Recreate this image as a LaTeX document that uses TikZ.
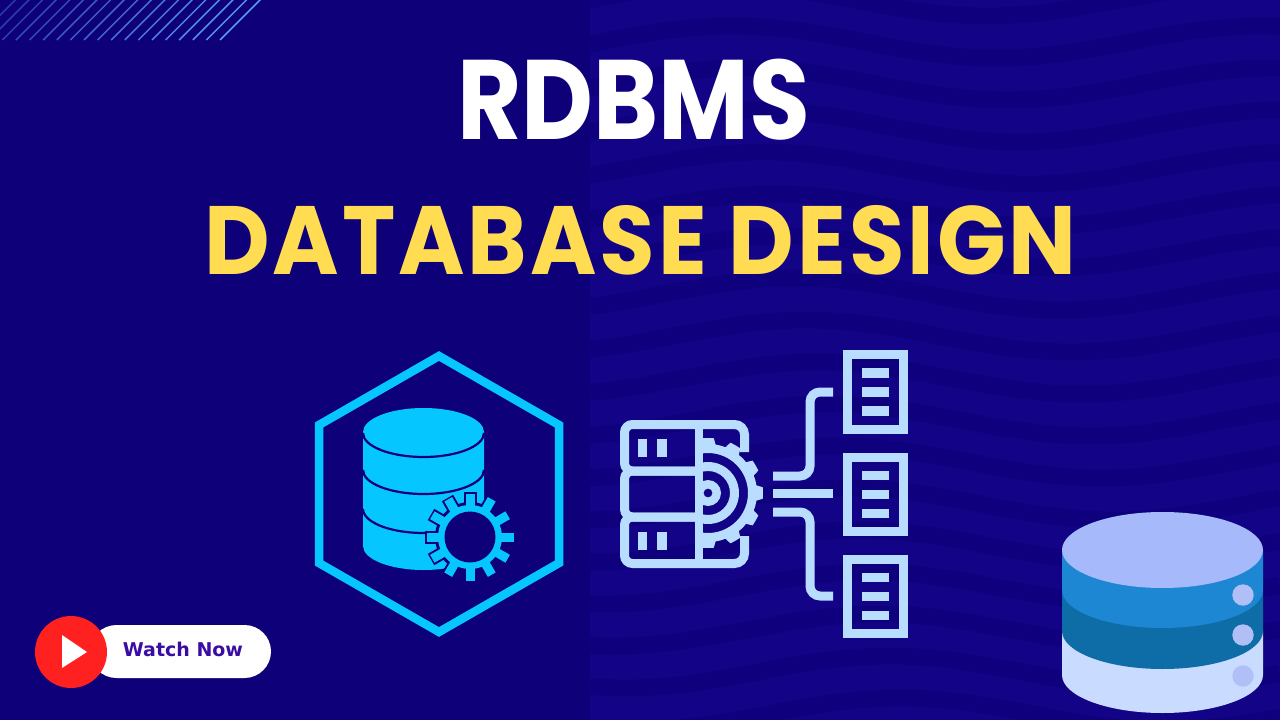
\documentclass[tikz,border=0pt]{standalone}
\usepackage[]{fontspec}
\usepackage[]{tikz}
\usepackage[]{xcolor}
\setmainfont{Poppins}
\newfontfamily\rdbmsfont[FakeStretch=0.875]{Poppins}
\newfontfamily\designfont[FakeStretch=0.93,LetterSpace=3]{Poppins}
\newfontfamily\btnfont{DejaVu Sans}
\definecolor{bgblue}{HTML}{0D0078}
\definecolor{waveblue}{HTML}{130487}
\definecolor{titleyellow}{HTML}{FFDC52}
\definecolor{hexcyan}{HTML}{06C6FF}
\definecolor{iconblue}{HTML}{B9DDFF}
\definecolor{stripeblue}{HTML}{5A9BEF}
\definecolor{playred}{HTML}{FF2020}
\definecolor{btnviolet}{HTML}{3A0CA3}
\definecolor{cylsky}{HTML}{A6B9FA}
\definecolor{cylmid}{HTML}{1D87D3}
\definecolor{cyldark}{HTML}{0E6CA6}
\definecolor{cyllight}{HTML}{C9DCFF}
\definecolor{cyldot}{HTML}{B0C0F6}
\tikzset{title/.style = {anchor = base, inner sep = 0}}
\tikzset{hexline/.style = {draw = hexcyan, line width = 8.5, line join = miter}}
\tikzset{iconline/.style = {draw = iconblue, line width = 9}}
\tikzset{iconbar/.style = {fill = iconblue}}
\tikzset{arcline/.style = {draw = bgblue, line width = 2.2}}

\begin{document}
\begin{tikzpicture}[x=1pt,y=-1pt]
        \useasboundingbox (0,0) rectangle (1280,720);
        \fill [bgblue] (0,0) rectangle (1280,720);
        \fill [waveblue] (590,0) rectangle (1280,720);
        \begin{scope}
            \clip (590,0) rectangle (1280,720);
            \foreach \rowy in {-42,0,...,756} {
                \draw [bgblue, line width = 17, opacity = 0.6] plot [domain=590:1280, samples=50, smooth] (\x, {\rowy - 16*cos((\x-722-0.25*\rowy)/530*360)});
            }
        \end{scope}
        \begin{scope}
            \clip (0,0) rectangle (1280,40);
            \foreach \i in {0,...,18} {
                \pgfmathsetmacro{\stripex}{220 - 13.6*\i}
                \pgfmathsetmacro{\stripeop}{1 - 0.035*\i}
                \draw [stripeblue, line width = 1.5, opacity = \stripeop] (\stripex,40) -- (\stripex+45,-5);
            }
        \end{scope}
        \node (rdbms) [title, text = white, font = \rdbmsfont\fontsize{113}{113}\bfseries] at (634,139) {RDBMS};
        \node (design) [title, text = titleyellow, font = \designfont\fontsize{97}{97}\bfseries] at (640.5,274) {DATABASE DESIGN};
        \draw [hexline] (439,356) -- (559,425) -- (559,563) -- (439,632) -- (319,563) -- (319,425) -- cycle;
        \fill [hexcyan] (363,432) arc [start angle=180, end angle=360, x radius=60.5, y radius=24] -- (484,546) arc [start angle=0, end angle=180, x radius=60.5, y radius=24] -- cycle;
        \draw [arcline] (363,433) arc [start angle=180, end angle=0, x radius=60.5, y radius=24];
        \draw [arcline] (363,470) arc [start angle=180, end angle=0, x radius=60.5, y radius=24];
        \draw [arcline] (363,509) arc [start angle=180, end angle=85, x radius=60.5, y radius=24];
        \foreach \a in {0,30,...,330} {
            \draw [bgblue, line width = 13] (470,537) ++(\a:28) -- ++(\a:17);
        }
        \fill [bgblue] (470,537) circle [radius=35];
        \foreach \a in {0,30,...,330} {
            \draw [hexcyan, line width = 9] (470,537) ++(\a:28) -- ++(\a:15.5);
        }
        \fill [hexcyan] (470,537) circle [radius=32];
        \fill [bgblue] (470,537) circle [radius=25.5];
        \begin{scope}
            \clip (699,400) rectangle (800,590);
            \draw [iconline, rounded corners=10] (699,424.5) -- (744.5,424.5) -- (744.5,452);
            \draw [iconline, rounded corners=10] (699,563.5) -- (744.5,563.5) -- (744.5,536);
            \fill [waveblue] (708,493) circle [radius=46];
            \fill [iconblue, even odd rule] plot [smooth cycle, tension=0.15, samples at={0,3,...,357}, variable=\t] ({708+(49+6*max(min(3*cos(12*\t)+0.4,1),-0)) *cos(\t)}, {493+(49+6*max(min(3*cos(12*\t)+0.4,1),-0))*sin(\t)}) (708,493) circle [radius=40];
            \fill [iconblue, even odd rule] (708,493) circle [radius=31] (708,493) circle [radius=22];
            \fill [iconblue, even odd rule] (708,493) circle [radius=13] (708,493) circle [radius=4.5];
        \end{scope}
        \foreach \rowy/\rowh in {424.5/46.5,471/46,517/46.5} {
            \draw [iconline, rounded corners=8] (699,\rowy) -- (624.5,\rowy) -- (624.5,\rowy+\rowh) -- (699,\rowy+\rowh);
        }
        \fill [iconbar] (695,420) rectangle (703,568);
        \foreach \rowy in {439,532} {
            \fill [iconbar] (638,\rowy) rectangle (647,\rowy+18);
            \fill [iconbar] (657,\rowy) rectangle (667,\rowy+18);
        }
        \draw [iconline, rounded corners=10] (773,476) -- (810,476) -- (810,392) -- (833,392);
        \draw [iconline] (773,493) -- (833,493);
        \draw [iconline, rounded corners=10] (773,512) -- (810,512) -- (810,596) -- (833,596);
        \foreach \docy in {350,452.5,554.5} {
            \draw [iconline] (847.5,\docy+4.5) rectangle (903.5,\docy+79);
            \foreach \bary in {18,37,56} {
                \fill [iconbar] (862,\docy+\bary) rectangle (889,\docy+\bary+9.5);
            }
        }
        \fill [cyllight] (1062,675) arc [start angle=180, end angle=0, x radius=100.5, y radius=38] -- (1263,631) -- (1062,631) -- cycle;
        \fill [cyldark] (1062,631) arc [start angle=180, end angle=0, x radius=100.5, y radius=38] -- (1263,590) -- (1062,590) -- cycle;
        \fill [cylmid] (1062,590) arc [start angle=180, end angle=0, x radius=100.5, y radius=38] -- (1263,550) -- (1062,550) -- cycle;
        \fill [cylsky] (1162.5,550) ellipse [x radius=100.5, y radius=38];
        \foreach \doty in {595,635,676} {
            \fill [cyldot] (1243,\doty) circle [radius=10.7];
        }
        \node (pill) [fill = white, rounded corners = 26.5, minimum width = 181, minimum height = 53, inner sep = 0] at (180.5,651.5) {};
        \node (playdisc) [fill = playred, circle, minimum size = 72, inner sep = 0] at (71,652) {};
        \fill [white] (62,635) -- (87,652) -- (62,668) -- cycle;
        \node (watch) [text = btnviolet, inner sep = 0, font = \btnfont\fontsize{19}{19}\bfseries] at (183,649.5) {Watch Now};
    \end{tikzpicture}
\end{document}
